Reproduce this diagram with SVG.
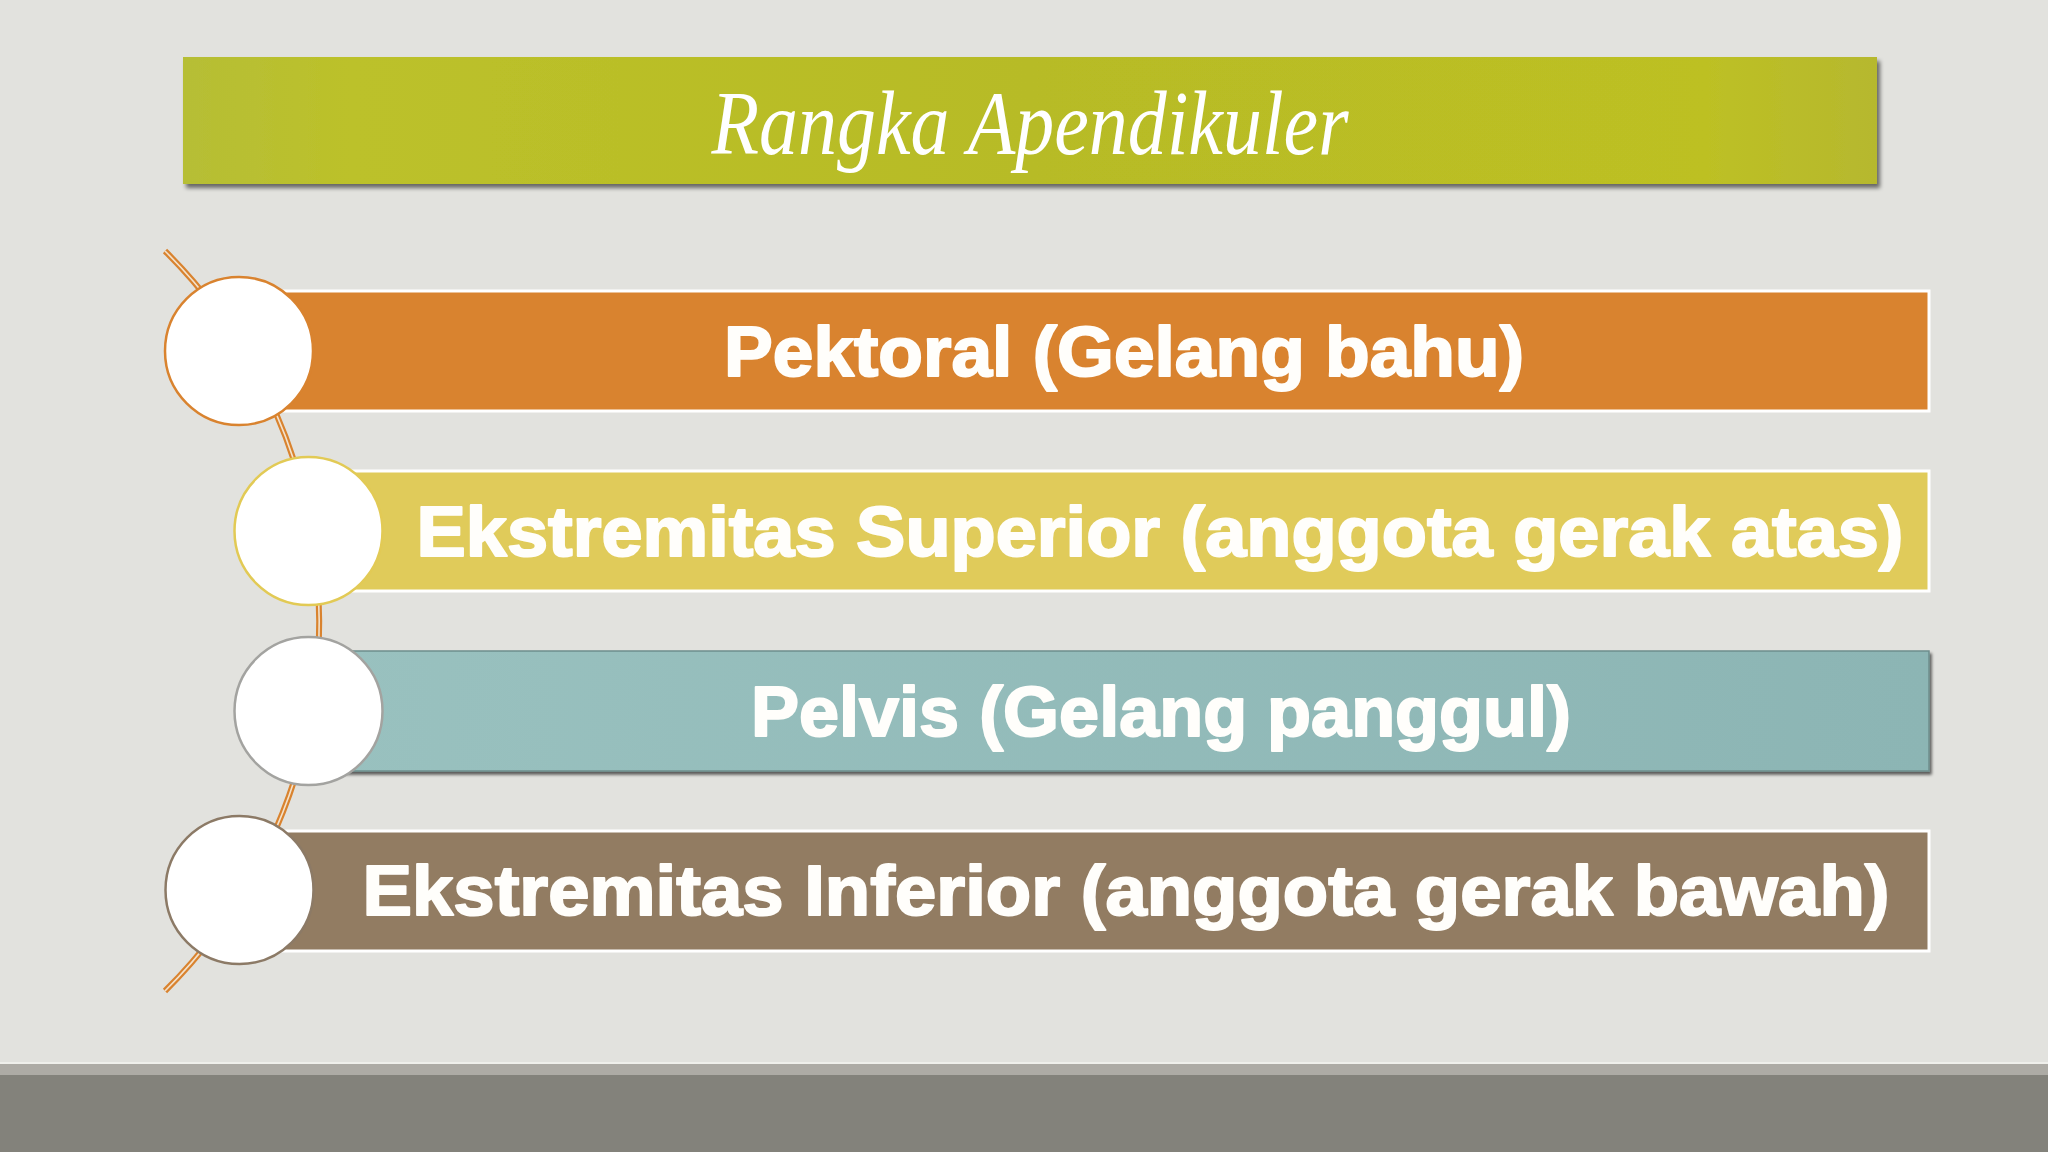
<svg xmlns="http://www.w3.org/2000/svg" width="2048" height="1152" viewBox="0 0 2048 1152">
<defs>
<linearGradient id="gTitle" x1="0" y1="0" x2="1" y2="0">
<stop offset="0" stop-color="#B6BE35"/>
<stop offset="0.1" stop-color="#BCC12A"/>
<stop offset="0.5" stop-color="#B7BB25"/>
<stop offset="0.9" stop-color="#BDC024"/>
<stop offset="1" stop-color="#B6B82F"/>
</linearGradient>
<linearGradient id="gTeal" x1="0" y1="0" x2="1" y2="0">
<stop offset="0" stop-color="#99C1BF"/>
<stop offset="1" stop-color="#8CB5B4"/>
</linearGradient>
<filter id="shTitle" x="-5%" y="-20%" width="110%" height="150%">
<feGaussianBlur in="SourceAlpha" stdDeviation="2"/>
<feOffset dx="3" dy="4"/>
<feComponentTransfer><feFuncA type="linear" slope="0.55"/></feComponentTransfer>
<feMerge><feMergeNode/><feMergeNode in="SourceGraphic"/></feMerge>
</filter>
<filter id="shBar" x="-5%" y="-20%" width="110%" height="150%">
<feGaussianBlur in="SourceAlpha" stdDeviation="1.5"/>
<feOffset dx="2" dy="3"/>
<feComponentTransfer><feFuncA type="linear" slope="0.6"/></feComponentTransfer>
<feMerge><feMergeNode/><feMergeNode in="SourceGraphic"/></feMerge>
</filter>
</defs>
<style>
.bar{stroke:#FFFFFF;stroke-width:3}
.lbl{font-family:"Liberation Sans",Arial,sans-serif;font-weight:bold;font-size:70px;fill:#FFFEFB;stroke:#FFFEFB;stroke-width:2;stroke-linejoin:round;text-anchor:middle}
.circ{fill:#FFFFFF;stroke-width:2.5}
.wire{fill:none;stroke:#D9832F;stroke-width:6}
.wirein{fill:none;stroke:#F3E2CC;stroke-width:1.6}
</style>
<rect x="0" y="0" width="2048" height="1152" fill="#E2E2DE"/>
<rect x="0" y="1062" width="2048" height="2" fill="#EFEFEB"/>
<rect x="0" y="1064" width="2048" height="11" fill="#ADABA5"/>
<rect x="0" y="1075" width="2048" height="77" fill="#83827B"/>

<g id="title">
<rect x="183" y="57" width="1694" height="127" fill="url(#gTitle)" filter="url(#shTitle)"/>
<text x="1030" y="154" font-family="Liberation Serif, serif" font-style="italic" font-size="92" fill="#FFFFFF" text-anchor="middle" textLength="637" lengthAdjust="spacingAndGlyphs">Rangka Apendikuler</text>
</g>

<g id="connectors">
<path class="wire" d="M165,251 A521,521 0 0 1 165,991"/>
<path class="wirein" d="M165,251 A521,521 0 0 1 165,991"/>
</g>

<g id="node1">
<rect class="bar" x="240" y="291" width="1689" height="120" fill="#D9832F"/>
<circle class="circ" cx="239" cy="351" r="74" stroke="#D9832F"/>
<text class="lbl" x="1124" y="376" textLength="800" lengthAdjust="spacingAndGlyphs">Pektoral (Gelang bahu)</text>
</g>

<g id="node2">
<rect class="bar" x="308" y="471" width="1621" height="120" fill="#E0CB5A"/>
<circle class="circ" cx="308.5" cy="531" r="74" stroke="#E2CA55"/>
<text class="lbl" x="1160" y="556" textLength="1487" lengthAdjust="spacingAndGlyphs">Ekstremitas Superior (anggota gerak atas)</text>
</g>

<g id="node3">
<rect x="308" y="651" width="1621" height="120" fill="url(#gTeal)" stroke="#6E8E8D" stroke-width="1.5" filter="url(#shBar)"/>
<circle class="circ" cx="308.5" cy="711" r="74" stroke="#A3A3A0"/>
<text class="lbl" x="1161" y="736" textLength="820" lengthAdjust="spacingAndGlyphs">Pelvis (Gelang panggul)</text>
</g>

<g id="node4">
<rect class="bar" x="240" y="831" width="1689" height="120" fill="#927C62"/>
<circle class="circ" cx="239.5" cy="890" r="74" stroke="#8C7A66"/>
<text class="lbl" x="1126" y="915" textLength="1527" lengthAdjust="spacingAndGlyphs">Ekstremitas Inferior (anggota gerak bawah)</text>
</g>
</svg>
